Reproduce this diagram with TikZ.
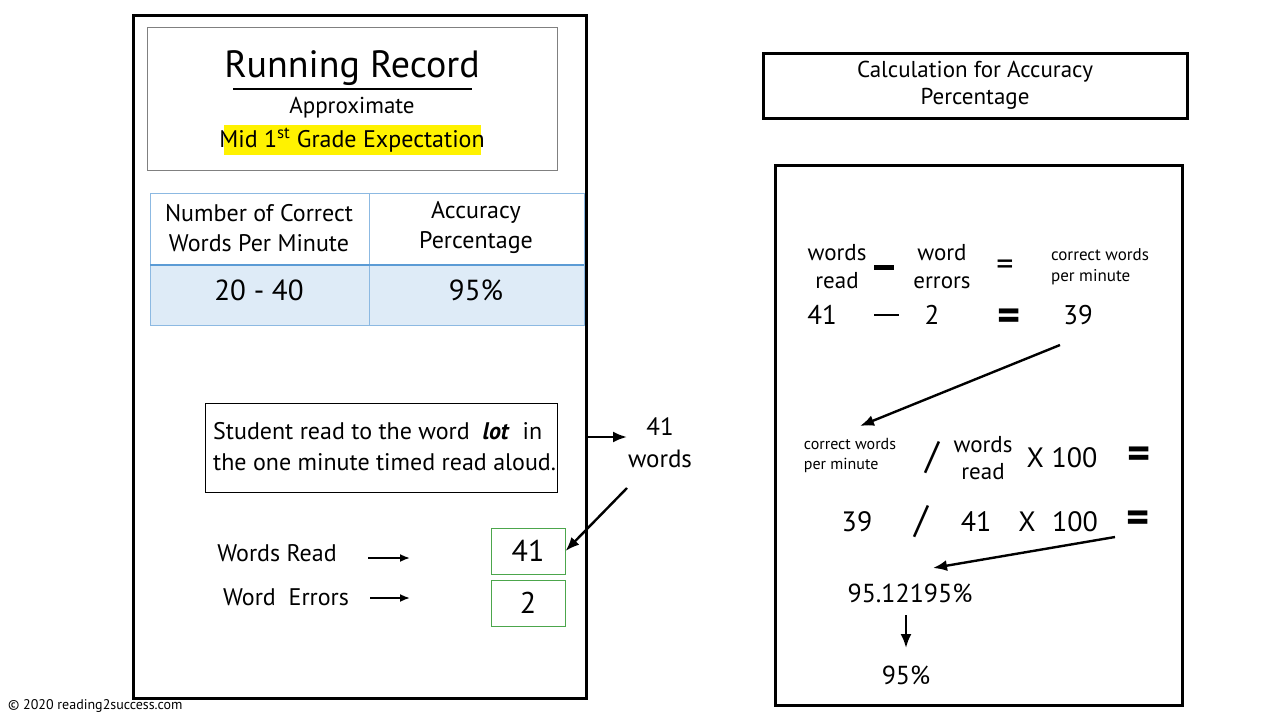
\documentclass[tikz,border=0pt]{standalone}
\usepackage{fontspec}
\usetikzlibrary{arrows.meta}
\setmainfont{PT Sans}
\definecolor{lb}{RGB}{222,235,247}
\definecolor{bb}{RGB}{91,155,213}
\begin{document}
\begin{tikzpicture}[x=1pt,y=-1pt,
  t/.style={inner sep=0pt,align=center,font=\fontsize{23}{27}\selectfont},
  ts/.style={inner sep=0pt,align=left,font=\fontsize{17}{21}\selectfont},
  big/.style={inner sep=0pt,font=\fontsize{34}{34}\selectfont\bfseries},
  arr/.style={-{Latex[length=14pt,width=11pt]},line width=2.4pt},
  frame/.style={draw,line width=3pt}]
\useasboundingbox (0,0) rectangle (1280,720);
\fill[white] (0,0) rectangle (1280,720);
% left
\draw[frame] (133,15) rectangle (586,698);
\draw[gray,line width=1pt] (147,27) rectangle (557,170);
\node[t,font=\fontsize{38}{40}\selectfont] (rr) at (352,68) {Running Record};
\draw[line width=2pt] (233,89) -- (472,89);
\fill[yellow] (224,125) rectangle (481,155);
\node[t] (ap) at (352,108) {Approximate};
\node[t,font=\fontsize{24}{27}\selectfont] (mg) at (352,140) {Mid 1\textsuperscript{st} Grade Expectation};
\fill[lb] (150,265) rectangle (584,325);
\draw[bb!70,line width=1pt] (150,193) rectangle (584,325) (369,193) -- (369,325);
\draw[bb,line width=2.5pt] (150,265) -- (584,265);
\node[t,font=\fontsize{24}{30}\selectfont] (h1) at (259,228) {Number of Correct\\Words Per Minute};
\node[t,font=\fontsize{24}{30}\selectfont] (h2) at (476,228) {Accuracy\\Percentage};
\node[t,font=\fontsize{29}{30}\selectfont] (d1) at (259,290) {20 - 40};
\node[t,font=\fontsize{29}{30}\selectfont] (d2) at (476,290) {95\%};
\node[draw,line width=1pt,minimum width=352pt,minimum height=89pt,anchor=north west,inner sep=0pt] (sb) at (205,403) {};
\node[t,align=left,anchor=west,font=\fontsize{24}{31}\selectfont] (st) at (213,447) {Student read to the word~~\textbf{\textit{lot}}~~in\\the one minute timed read aloud.};
\coordinate (w1) at (627,437);
\coordinate (w0) at (586,437);
\draw[arr] (w0) -- (w1);
\node[t,font=\fontsize{25}{32}\selectfont] (fw) at (660,443) {41\\words};
\node[draw=green!50!black!70,line width=1pt,minimum width=74pt,minimum height=46pt,inner sep=0pt,font=\fontsize{30}{30}\selectfont] (b41) at (528,551) {41};
\node[draw=green!50!black!70,line width=1pt,minimum width=74pt,minimum height=46pt,inner sep=0pt,font=\fontsize{30}{30}\selectfont] (b2) at (528,603) {2};
\coordinate (fa) at (627,488);
\draw[arr] (fa) -- (b41.east);
\node[t,font=\fontsize{24}{27}\selectfont] (wr) at (277,553) {Words Read};
\node[t,font=\fontsize{24}{27}\selectfont] (we) at (286,597) {Word~~Errors};
\coordinate (a1) at (368,558); \coordinate (a2) at (410,558);
\coordinate (a3) at (370,598); \coordinate (a4) at (410,598);
\draw[-{Latex[length=10pt,width=8pt]},line width=1.8pt] (a1) -- (a2);
\draw[-{Latex[length=10pt,width=8pt]},line width=1.8pt] (a3) -- (a4);
\node[inner sep=0pt,anchor=west,font=\fontsize{14}{16}\selectfont] (cp) at (8,706) {© 2020 reading2success.com};
% right
\node[frame,minimum width=424pt,minimum height=65pt,inner sep=0pt,t] (ct) at (975,85.5) {Calculation for Accuracy\\Percentage};
\draw[frame] (775,165) rectangle (1182,705);
\node[t,font=\fontsize{23}{28}\selectfont] (r1a) at (837,267) {words\\read};
\fill (874,265) rectangle (894,270);
\node[t,font=\fontsize{23}{28}\selectfont] (r1c) at (942,267) {word\\errors};
\node[inner sep=0pt,font=\fontsize{34}{34}\selectfont] (r1d) at (1005,268) {=};
\node[ts] (r1e) at (1100,267) {correct words\\per minute};
\node[t,font=\fontsize{27}{30}\selectfont] (n41) at (822,315) {41};
\draw[line width=1.5pt] (874,315) -- (899,315);
\node[t,font=\fontsize{27}{30}\selectfont] (n2) at (932,315) {2};
\node[big,font=\fontsize{44}{44}\selectfont\bfseries] (ne) at (1009,320) {=};
\node[t,font=\fontsize{27}{30}\selectfont] (n39) at (1078,315) {39};
\coordinate (c1) at (1060,345); \coordinate (c2) at (860,426);
\draw[arr] (c1) -- (c2);
\node[ts,font=\fontsize{16}{20}\selectfont] (q1) at (850,455) {correct words\\per minute};
\node[big,font=\fontsize{38}{38}\selectfont] (q2) at (932,458) {/};
\node[t,font=\fontsize{23}{27}\selectfont] (q3) at (983,458) {words\\read};
\node[t,font=\fontsize{28}{30}\selectfont] (q4) at (1062,458) {X 100};
\node[big,font=\fontsize{44}{44}\selectfont\bfseries] (q5) at (1139,458) {=};
\node[t,font=\fontsize{28}{30}\selectfont] (p1) at (857,522) {39};
\node[big,font=\fontsize{38}{38}\selectfont] (p2) at (921,522) {/};
\node[t,font=\fontsize{28}{30}\selectfont] (p3) at (976,522) {41};
\node[t,font=\fontsize{28}{30}\selectfont] (p4) at (1027,522) {X};
\node[t,font=\fontsize{28}{30}\selectfont] (p5) at (1075,522) {100};
\node[big,font=\fontsize{44}{44}\selectfont\bfseries] (p6) at (1138,522) {=};
\coordinate (e1) at (1115,537); \coordinate (e2) at (933,568);
\draw[arr] (e1) -- (e2);
\node[t,font=\fontsize{26}{28}\selectfont] (res) at (910,593) {95.12195\%};
\node[t,font=\fontsize{26}{28}\selectfont] (fin) at (906,675) {95\%};
\coordinate (f0) at (906,615); \coordinate (f1) at (906,648);
\draw[arr] (f0) -- (f1);
\end{tikzpicture}
\end{document}
